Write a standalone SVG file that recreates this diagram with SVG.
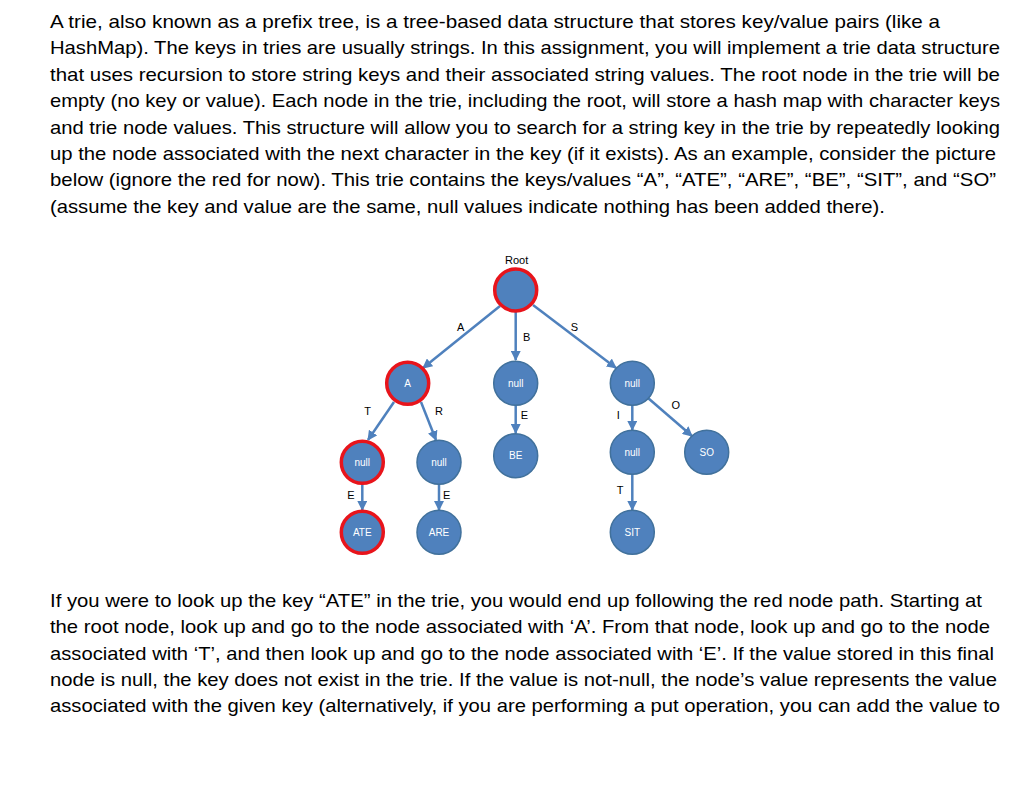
<svg xmlns="http://www.w3.org/2000/svg" width="1024" height="787" viewBox="0 0 1024 787">
<defs>
<style>
.p{font-family:"Liberation Sans",Arial,sans-serif;font-size:19px;fill:#000}
.n{fill:#4f81bd;stroke:#41719c;stroke-width:1.5}
.r{fill:#4f81bd;stroke:#e8141b;stroke-width:3.5}
.t{font-family:"Liberation Sans",Arial,sans-serif;font-size:10px;fill:#fff;text-anchor:middle}
.l{font-family:"Liberation Sans",Arial,sans-serif;font-size:11px;fill:#000;text-anchor:middle}
.e{stroke:#4f81bd;stroke-width:2.5;fill:none;marker-end:url(#ar)}
</style>
<marker id="ar" viewBox="0 0 10 10" refX="9" refY="5" markerWidth="4" markerHeight="4" orient="auto"><path d="M0,0L10,5L0,10z" fill="#4f81bd"/></marker>
</defs>
<rect width="1024" height="787" fill="#fff"/>
<g id="text-top">
<text class="p" x="50" y="28" textLength="890" lengthAdjust="spacingAndGlyphs">A trie, also known as a prefix tree, is a tree-based data structure that stores key/value pairs (like a</text>
<text class="p" x="50" y="54.4" textLength="950" lengthAdjust="spacingAndGlyphs">HashMap). The keys in tries are usually strings. In this assignment, you will implement a trie data structure</text>
<text class="p" x="50" y="80.8" textLength="950" lengthAdjust="spacingAndGlyphs">that uses recursion to store string keys and their associated string values. The root node in the trie will be</text>
<text class="p" x="50" y="107.2" textLength="950" lengthAdjust="spacingAndGlyphs">empty (no key or value). Each node in the trie, including the root, will store a hash map with character keys</text>
<text class="p" x="50" y="133.6" textLength="950" lengthAdjust="spacingAndGlyphs">and trie node values. This structure will allow you to search for a string key in the trie by repeatedly looking</text>
<text class="p" x="50" y="160" textLength="946" lengthAdjust="spacingAndGlyphs">up the node associated with the next character in the key (if it exists). As an example, consider the picture</text>
<text class="p" x="50" y="186.4" textLength="946" lengthAdjust="spacingAndGlyphs">below (ignore the red for now). This trie contains the keys/values “A”, “ATE”, “ARE”, “BE”, “SIT”, and “SO”</text>
<text class="p" x="50" y="212.8" textLength="835" lengthAdjust="spacingAndGlyphs">(assume the key and value are the same, null values indicate nothing has been added there).</text>
</g>
<g id="connectors">
<line class="e" x1="500" y1="306" x2="423" y2="368"/>
<line class="e" x1="515.7" y1="312" x2="515.7" y2="360"/>
<line class="e" x1="533" y1="305" x2="616" y2="368"/>
<line class="e" x1="394" y1="402" x2="368" y2="440"/>
<line class="e" x1="421" y1="402" x2="436" y2="440"/>
<line class="e" x1="515.7" y1="405" x2="515.7" y2="433"/>
<line class="e" x1="632.3" y1="405" x2="632.3" y2="430"/>
<line class="e" x1="648" y1="398" x2="692" y2="436"/>
<line class="e" x1="362.3" y1="484" x2="362.3" y2="510"/>
<line class="e" x1="439" y1="484" x2="439" y2="510"/>
<line class="e" x1="632.3" y1="474" x2="632.3" y2="510"/>
</g>
<g id="edge-labels">
<text class="l" x="516.7" y="264">Root</text>
<text class="l" x="460.7" y="331">A</text>
<text class="l" x="526.7" y="341">B</text>
<text class="l" x="574.3" y="331">S</text>
<text class="l" x="367.7" y="415">T</text>
<text class="l" x="439" y="415">R</text>
<text class="l" x="524.3" y="419">E</text>
<text class="l" x="618.3" y="419">I</text>
<text class="l" x="675.7" y="409">O</text>
<text class="l" x="351" y="499">E</text>
<text class="l" x="446.7" y="499">E</text>
<text class="l" x="620" y="494">T</text>
</g>
<g id="root"><circle class="r" cx="515.7" cy="290" r="21"/></g>
<g id="nA"><circle class="r" cx="407.7" cy="383.3" r="21"/><text class="t" x="407.7" y="387">A</text></g>
<g id="nB"><circle class="n" cx="515.7" cy="383.3" r="22"/><text class="t" x="515.7" y="387">null</text></g>
<g id="nS"><circle class="n" cx="632.3" cy="383.3" r="22"/><text class="t" x="632.3" y="387">null</text></g>
<g id="nAT"><circle class="r" cx="362.3" cy="462.3" r="21"/><text class="t" x="362.3" y="466">null</text></g>
<g id="nAR"><circle class="n" cx="439" cy="462.3" r="22"/><text class="t" x="439" y="466">null</text></g>
<g id="nBE"><circle class="n" cx="515.7" cy="455.7" r="22"/><text class="t" x="515.7" y="459">BE</text></g>
<g id="nSI"><circle class="n" cx="632.3" cy="452.3" r="22"/><text class="t" x="632.3" y="456">null</text></g>
<g id="nSO"><circle class="n" cx="706.7" cy="452.3" r="22"/><text class="t" x="706.7" y="456">SO</text></g>
<g id="nATE"><circle class="r" cx="362.3" cy="532.3" r="21"/><text class="t" x="362.3" y="536">ATE</text></g>
<g id="nARE"><circle class="n" cx="439" cy="532.3" r="22"/><text class="t" x="439" y="536">ARE</text></g>
<g id="nSIT"><circle class="n" cx="632.3" cy="532.3" r="22"/><text class="t" x="632.3" y="536">SIT</text></g>
<g id="text-bottom">
<text class="p" x="50" y="607" textLength="932" lengthAdjust="spacingAndGlyphs">If you were to look up the key “ATE” in the trie, you would end up following the red node path. Starting at</text>
<text class="p" x="50" y="633.3" textLength="940" lengthAdjust="spacingAndGlyphs">the root node, look up and go to the node associated with ‘A’. From that node, look up and go to the node</text>
<text class="p" x="50" y="659.6" textLength="944" lengthAdjust="spacingAndGlyphs">associated with ‘T’, and then look up and go to the node associated with ‘E’. If the value stored in this final</text>
<text class="p" x="50" y="685.9" textLength="947" lengthAdjust="spacingAndGlyphs">node is null, the key does not exist in the trie. If the value is not-null, the node’s value represents the value</text>
<text class="p" x="50" y="712.2" textLength="950" lengthAdjust="spacingAndGlyphs">associated with the given key (alternatively, if you are performing a put operation, you can add the value to</text>
</g>
</svg>
